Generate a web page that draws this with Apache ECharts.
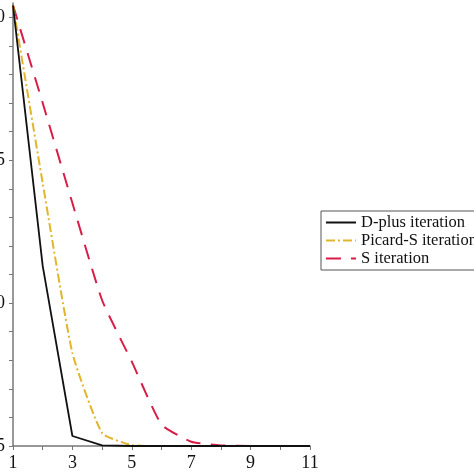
<!DOCTYPE html>
<html>
<head>
<meta charset="utf-8">
<script src="https://cdn.jsdelivr.net/npm/echarts@6/dist/echarts.min.js"></script>
<style>
  html, body { margin: 0; padding: 0; background: #fff; }
  #main { width: 474px; height: 474px; }
</style>
</head>
<body>
<div id="main"></div>
<script>
// iteration number
var steps = [1, 2, 3, 4, 5, 6, 7, 8, 9, 10, 11]
var dPlus = [20.42, 11.3, 5.35, 5.02, 5, 5, 5, 5, 5, 5, 5]
var picardS = [20.42, 14.2, 8.25, 5.45, 5.03, 5, 5, 5, 5, 5, 5]
var sIter = [20.42, 17.0, 13.5, 10.1, 7.95, 5.75, 5.15, 5.02, 5, 5, 5]
var yTicks = [5, 10, 15, 20]

function pairs(vals) {
  return steps.map(function (x, i) { return [x, vals[i]] })
}

var myChart = echarts.init(document.getElementById('main'))
var serif = '"Liberation Serif", "DejaVu Serif", serif'

var option = {
  animation: false,
  grid: { left: 13, right: 164, top: 3, bottom: 28, containLabel: false, outerBoundsMode: 'none' },
  legend: {
    orient: 'vertical',
    left: 321,
    top: 211,
    itemWidth: 30,
    itemHeight: 10,
    itemGap: 1,
    padding: [3, 24, 3, 4],
    borderColor: '#555',
    borderWidth: 1,
    itemStyle: { opacity: 0 },
    textStyle: { fontFamily: serif, fontSize: 16.5, color: '#111' },
    data: ['D-plus iteration', 'Picard-S iteration', 'S iteration']
  },
  xAxis: {
    type: 'value',
    min: 1,
    max: 11,
    interval: 1,
    splitLine: { show: false },
    axisLine: { lineStyle: { color: '#777', width: 1.5 } },
    axisTick: { length: 4, lineStyle: { color: '#777' } },
    axisLabel: {
      margin: 8,
      fontFamily: serif,
      fontSize: 18,
      color: '#111',
      formatter: function (v) { return v % 2 === 1 ? String(v) : '' }
    }
  },
  yAxis: {
    type: 'value',
    min: 5,
    max: 20.5,
    interval: 5,
    splitLine: { show: false },
    axisLine: { show: true, lineStyle: { color: '#777', width: 1.5 } },
    axisTick: { show: true, length: 4, customValues: yTicks, lineStyle: { color: '#777' } },
    minorTick: { show: true, splitNumber: 5, length: 4, lineStyle: { color: '#777' } },
    axisLabel: {
      margin: 8,
      customValues: yTicks,
      fontFamily: serif,
      fontSize: 18,
      color: '#111'
    }
  },
  series: [
    {
      name: 'D-plus iteration',
      type: 'line',
      showSymbol: false,
      symbol: 'none',
      data: pairs(dPlus),
      lineStyle: { color: '#111', width: 1.8 },
      itemStyle: { color: '#111' },
      z: 3
    },
    {
      name: 'Picard-S iteration',
      type: 'line',
      showSymbol: false,
      symbol: 'none',
      smooth: 0.15,
      data: pairs(picardS),
      lineStyle: { color: '#e2b52c', width: 2, type: [9, 3, 2, 3] },
      itemStyle: { color: '#e2b52c' },
      z: 2
    },
    {
      name: 'S iteration',
      type: 'line',
      showSymbol: false,
      symbol: 'none',
      smooth: 0.15,
      data: pairs(sIter),
      lineStyle: { color: '#d81e48', width: 2, type: [15, 10] },
      itemStyle: { color: '#d81e48' },
      z: 1
    }
  ]
}

myChart.setOption(option)
</script>
</body>
</html>
